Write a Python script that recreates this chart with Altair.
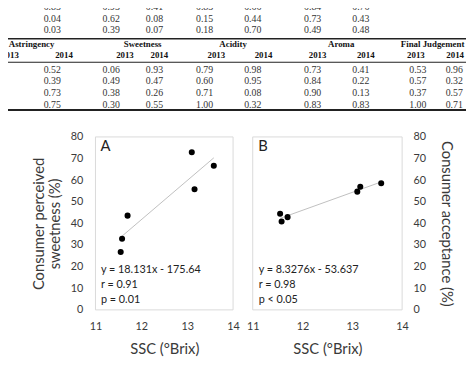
import altair as alt
import pandas as pd

# ---------------- table data ----------------
attributes = ["Astringency", "Sweetness", "Acidity", "Aroma", "Final Judgement"]
years = ["2013", "2014"]
# partially visible rows above the header (columns: Astr.2014 .. Aroma 2014)
top_rows = [
    ["0.85", "0.93", "0.41", "0.83", "0.66", "0.84", "0.76"],
    ["0.04", "0.62", "0.08", "0.15", "0.44", "0.73", "0.43"],
    ["0.03", "0.39", "0.07", "0.18", "0.70", "0.49", "0.48"],
]
# body rows (columns: Astr.2014, Sweet 2013, 2014, Acid 2013, 2014, Aroma 2013, 2014, FJ 2013, 2014)
body_rows = [
    ["0.52", "0.06", "0.93", "0.79", "0.98", "0.73", "0.41", "0.53", "0.96"],
    ["0.39", "0.49", "0.47", "0.60", "0.95", "0.84", "0.22", "0.57", "0.32"],
    ["0.73", "0.38", "0.26", "0.71", "0.08", "0.90", "0.13", "0.37", "0.57"],
    ["0.75", "0.30", "0.55", "1.00", "0.32", "0.83", "0.83", "1.00", "0.71"],
]

# ---------------- scatter data ----------------
ssc = [11.55, 11.58, 11.70, 13.10, 13.16, 13.58]
sweetness = [26.8, 32.9, 43.6, 72.9, 55.8, 66.7]
acceptance = [44.5, 40.9, 42.9, 54.7, 57.0, 58.6]
eq_a = ["y = 18.131x - 175.64", "r = 0.91", "p = 0.01"]
eq_b = ["y = 8.3276x - 53.637", "r = 0.98", "p < 0.05"]
ssc_ticks = [11, 12, 13, 14]
pct_ticks = [0, 10, 20, 30, 40, 50, 60, 70, 80]

# ---------------- build table frames ----------------
val_records = []
for r, row in enumerate(top_rows):
    for c, v in enumerate(row):
        val_records.append({"slot": r, "col": c + 1, "txt": v})
for r, row in enumerate(body_rows):
    for c, v in enumerate(row):
        val_records.append({"slot": 7 + r, "col": c + 1, "txt": v})
df_vals = pd.DataFrame(val_records)
df_years = pd.DataFrame({"slot": [5] * 10, "col": list(range(10)),
                         "txt": [years[i % 2] for i in range(10)]})
df_groups = pd.DataFrame({"slot": [4] * 5, "col": list(range(5)), "txt": attributes})
one_row = pd.DataFrame({"k": [0]})

SERIF = "Liberation Serif"
SANS = "Lato"
TXT = "#3a3a3a"

row_scale = alt.Scale(domain=list(range(12)),
                      range=[-4.5, 7.7, 19.5, 28, 33.5, 45, 52, 59.7, 71.5, 83.7, 96, 100.5],
                      zero=False, nice=False)
val_x = alt.Scale(domain=list(range(10)),
                  range=[-20, 45, 105, 149, 200, 249, 310, 359, 417, 454], zero=False, nice=False)
year_x = alt.Scale(domain=list(range(10)),
                   range=[2, 57, 119, 154, 212, 260, 315, 364, 415, 455], zero=False, nice=False)
grp_x = alt.Scale(domain=list(range(5)), range=[24, 137, 229, 339, 432], zero=False, nice=False)

vals = alt.Chart(df_vals).mark_text(font=SERIF, fontSize=10, color="#333333", baseline="middle").encode(
    x=alt.X("col:Q", scale=val_x, axis=None),
    y=alt.Y("slot:Q", scale=row_scale, axis=None),
    text="txt:N")
yrs = alt.Chart(df_years).mark_text(font=SERIF, fontSize=9, fontWeight="bold", color="#111111",
                                    baseline="middle").encode(
    x=alt.X("col:Q", scale=year_x, axis=None),
    y=alt.Y("slot:Q", scale=row_scale, axis=None),
    text="txt:N")
grps = alt.Chart(df_groups).mark_text(font=SERIF, fontSize=9, fontWeight="bold", color="#111111",
                                      baseline="middle").encode(
    x=alt.X("col:Q", scale=grp_x, axis=None),
    y=alt.Y("slot:Q", scale=row_scale, axis=None),
    text="txt:N")
rule_top = alt.Chart(one_row).mark_rule(color="#222222", strokeWidth=1.5).encode(
    y=alt.Y(datum=3, scale=row_scale, axis=None))
rule_mid = alt.Chart(one_row).mark_rule(color="#222222", strokeWidth=1.2).encode(
    y=alt.Y(datum=6, scale=row_scale, axis=None))
rule_bot = alt.Chart(one_row).mark_rule(color="#222222", strokeWidth=2).encode(
    y=alt.Y(datum=11, scale=row_scale, axis=None))

table = alt.layer(vals, yrs, grps, rule_top, rule_mid, rule_bot).resolve_scale(x="independent")

# ---------------- scatter panels ----------------
def panel(yvals, letter, eq, xrange, yorient, yoffset, ylabelpad, ytitle, ytitlepad):
    df = pd.DataFrame({"ssc": ssc, "v": yvals})
    xs = alt.Scale(domain=[11, 14], range=xrange, zero=False, nice=False)
    ys = alt.Scale(domain=[0, 80], range=[304, 128], zero=False, nice=False)
    xax = alt.Axis(orient="bottom", offset=-60, values=ssc_ticks, grid=False, domain=False,
                   ticks=False, tickSize=0, labelPadding=11, labelFlush=False, title="SSC (°Brix)",
                   titlePadding=10)
    yax = alt.Axis(orient=yorient, offset=yoffset, values=pct_ticks, grid=False, domain=False,
                   ticks=False, tickSize=0, labelPadding=ylabelpad, title=ytitle,
                   titlePadding=ytitlepad, titleLineHeight=16.5,
                   titleAngle=(270 if yorient == "left" else 90))
    box = alt.Chart(one_row).mark_rect(fillOpacity=0, stroke="#d9d9d9", strokeWidth=1).encode(
        x=alt.X(datum=11, scale=xs, axis=xax), x2=alt.X2(datum=14),
        y=alt.Y(datum=0, scale=ys, axis=yax), y2=alt.Y2(datum=80))
    pts = alt.Chart(df).mark_circle(size=38, color="black", opacity=1).encode(
        x=alt.X("ssc:Q", scale=xs, axis=xax),
        y=alt.Y("v:Q", scale=ys, axis=yax))
    trend = alt.Chart(df).transform_regression("ssc", "v").mark_line(
        color="#bfbfbf", strokeWidth=1).encode(
        x=alt.X("ssc:Q", scale=xs, axis=xax), y=alt.Y("v:Q", scale=ys, axis=yax))
    lab = alt.Chart(one_row).mark_text(font=SANS, fontSize=15, fontWeight=400, color="#222222",
                                       align="left", baseline="middle").encode(
        x=alt.X(datum=11.11, scale=xs, axis=xax), y=alt.Y(datum=75.7, scale=ys, axis=yax),
        text=alt.value(letter))
    eqt = alt.Chart(one_row).mark_text(font=SANS, fontSize=11, fontWeight=400, color="#222222",
                                       align="left", baseline="middle", lineHeight=15.3).encode(
        x=alt.X(datum=11.12, scale=xs, axis=xax), y=alt.Y(datum=18.3, scale=ys, axis=yax),
        text=alt.value(eq))
    return alt.layer(box, trend, pts, lab, eqt)

pa = panel(sweetness, "A", eq_a, [89, 229], "left", -89, 13,
           ["Consumer perceived", "sweetness (%)"], 8)
pb = panel(acceptance, "B", eq_b, [249, 401], "right", -65, 11,
           "Consumer acceptance (%)", 13)

chart = alt.layer(table, pa, pb).resolve_scale(x="independent", y="independent").properties(
    width=466, height=364, padding=0, autosize=alt.AutoSizeParams(type="none")
).configure_view(strokeWidth=0).configure_axis(
    labelFont=SANS, titleFont=SANS, labelFontSize=11, titleFontSize=15,
    labelFontWeight=400, titleFontWeight=400, labelColor=TXT, titleColor=TXT)

chart.save("out.html", embed_options={"renderer": "svg", "actions": False})
